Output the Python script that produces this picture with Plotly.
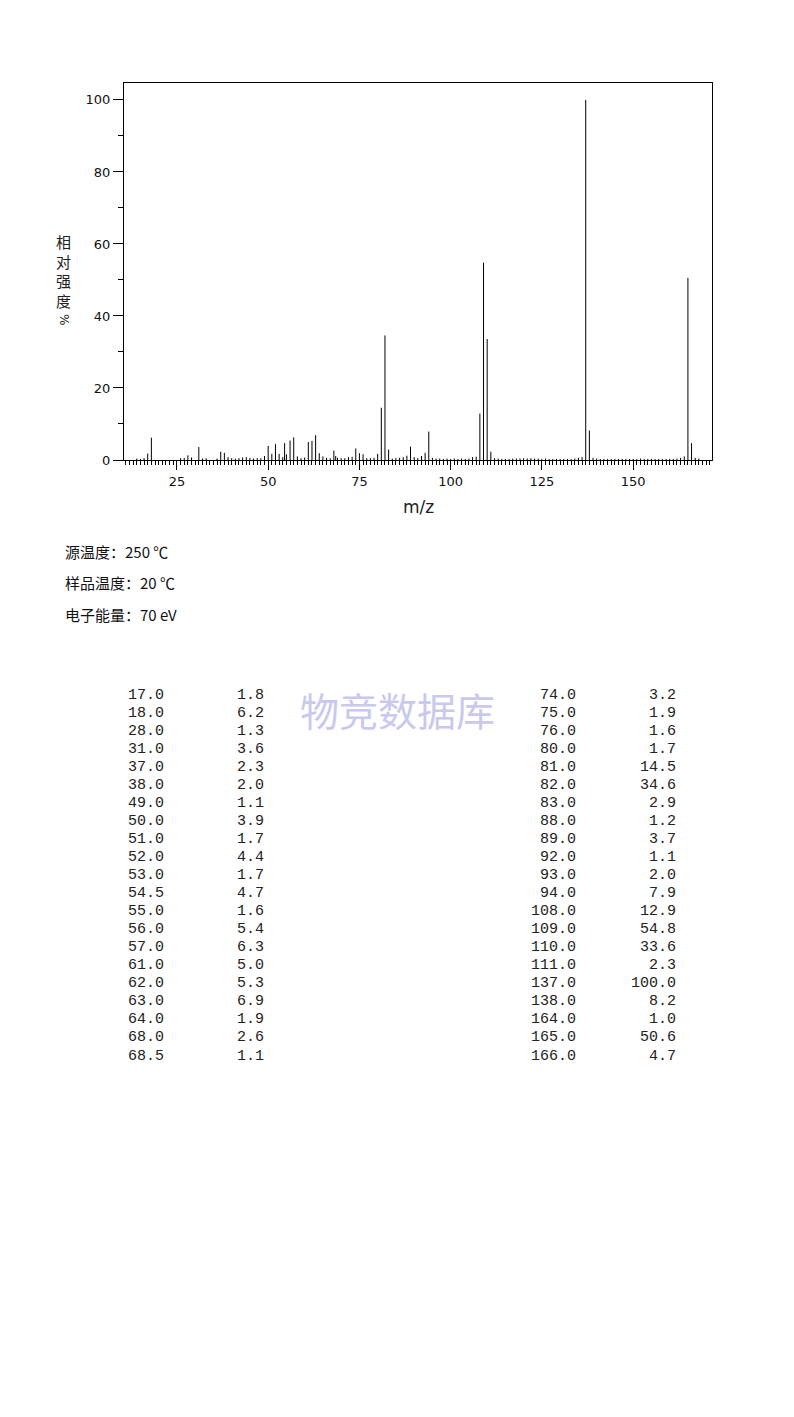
import plotly.graph_objects as go

# Listed peaks (m/z, relative intensity %)
table_mz = [17.0, 18.0, 28.0, 31.0, 37.0, 38.0, 49.0, 50.0, 51.0, 52.0, 53.0, 54.5, 55.0, 56.0,
            57.0, 61.0, 62.0, 63.0, 64.0, 68.0, 68.5,
            74.0, 75.0, 76.0, 80.0, 81.0, 82.0, 83.0, 88.0, 89.0, 92.0, 93.0, 94.0, 108.0, 109.0,
            110.0, 111.0, 137.0, 138.0, 164.0, 165.0, 166.0]
table_int = [1.8, 6.2, 1.3, 3.6, 2.3, 2.0, 1.1, 3.9, 1.7, 4.4, 1.7, 4.7, 1.6, 5.4,
             6.3, 5.0, 5.3, 6.9, 1.9, 2.6, 1.1,
             3.2, 1.9, 1.6, 1.7, 14.5, 34.6, 2.9, 1.2, 3.7, 1.1, 2.0, 7.9, 12.9, 54.8,
             33.6, 2.3, 100.0, 8.2, 1.0, 50.6, 4.7]

# Minor peaks (below table threshold)
minor_mz = [14, 15, 16, 26, 27, 29, 32, 33, 36, 39, 40, 41, 42, 43, 44, 45, 46, 47, 48,
            54, 58, 59, 60, 65, 66, 67, 69, 70, 71, 72, 73, 77, 78, 79, 84, 85, 86, 87,
            90, 91, 95, 96, 97, 98, 99, 100, 101, 102, 103, 104, 105, 106, 107,
            112, 113, 114, 115, 116, 117, 118, 119, 120, 121, 122, 123, 124, 125, 126,
            127, 128, 129, 130, 131, 132, 133, 134, 135, 136, 139, 140, 141, 142, 143,
            144, 145, 146, 147, 148, 149, 150, 151, 152, 153, 154, 155, 156, 157, 158,
            159, 160, 161, 162, 163, 167, 168]
minor_int = [0.4, 0.3, 0.5, 0.5, 0.6, 0.7, 0.4, 0.5, 0.4, 0.8, 0.5, 0.4, 0.5, 0.7, 0.8, 0.6, 0.4, 0.5, 0.5,
             0.8, 1.0, 0.5, 0.7, 1.0, 0.6, 0.5, 0.6, 0.5, 0.5, 0.8, 0.9, 0.5, 0.5, 0.6, 0.4, 0.5, 0.6, 0.8,
             0.8, 0.5, 0.6, 0.4, 0.4, 0.3, 0.4, 0.3, 0.4, 0.3, 0.4, 0.3, 0.4, 0.8, 0.9,
             0.5, 0.4, 0.3, 0.3, 0.3, 0.4, 0.4, 0.4, 0.5, 0.4, 0.5, 0.4, 0.4, 0.3, 0.4,
             0.3, 0.3, 0.3, 0.3, 0.3, 0.3, 0.3, 0.4, 0.6, 0.8, 0.6, 0.4, 0.3, 0.3, 0.3,
             0.3, 0.3, 0.3, 0.3, 0.3, 0.3, 0.3, 0.3, 0.4, 0.3, 0.3, 0.3, 0.3, 0.3, 0.3,
             0.3, 0.3, 0.3, 0.4, 0.6, 0.6, 0.4]

x_ticks = [25, 50, 75, 100, 125, 150]
y_ticks = [0, 20, 40, 60, 80, 100]
info_lines = ["源温度：250 ℃", "样品温度：20 ℃", "电子能量：70 eV"]
y_title = "相<br>对<br>强<br>度"
watermark = "物竞数据库"

W, H = 794, 1417
OFF = 8  # page body margin
L, R, T, B = 124, 712, 83, 460  # plot area in page pixels


def xp(px):
    return (px - L) / (R - L)


def yp(py):
    return (B - py) / (B - T)


all_mz = table_mz + minor_mz
all_int = table_int + minor_int
xs, ys = [], []
for m, v in zip(all_mz, all_int):
    xs += [m, m, None]
    ys += [0, v, None]

fig = go.Figure()
fig.add_trace(go.Scatter(x=xs, y=ys, mode="lines",
                         line=dict(color="black", width=1), hoverinfo="skip",
                         showlegend=False))

tickfont = dict(family="DejaVu Sans", size=13, color="#111")
fig.update_layout(
    width=W, height=H,
    margin=dict(l=L - OFF, r=W - R + OFF, t=T - OFF, b=H - B + OFF, pad=0),
    paper_bgcolor="white", plot_bgcolor="white",
    showlegend=False,
    xaxis=dict(range=[10.5, 171.6], tickvals=x_ticks, ticktext=[str(t) for t in x_ticks],
               ticks="outside", ticklen=9, tickcolor="black", tickwidth=1,
               minor=dict(dtick=1, tick0=0, ticks="outside", ticklen=4,
                          tickcolor="black", tickwidth=1, showgrid=False),
               showline=True, linecolor="black", linewidth=1, mirror=True,
               showgrid=False, zeroline=False, tickfont=tickfont),
    yaxis=dict(range=[0, 104.7], tickvals=y_ticks, ticktext=[str(t) for t in y_ticks],
               ticks="outside", ticklen=10, tickcolor="black", tickwidth=1,
               minor=dict(dtick=10, tick0=0, ticks="outside", ticklen=5,
                          tickcolor="black", tickwidth=1, showgrid=False),
               showline=True, linecolor="black", linewidth=1, mirror=True,
               showgrid=False, zeroline=False, tickfont=tickfont),
)

ann = []
# y-axis title (stacked characters)
ann.append(dict(text=y_title, x=xp(63), y=yp(271), xref="paper", yref="paper",
                showarrow=False, xanchor="center", yanchor="middle",
                font=dict(family="Noto Sans CJK SC", size=15, color="#222")))
ann.append(dict(text="%", x=xp(64), y=yp(319), xref="paper", yref="paper",
                showarrow=False, xanchor="center", yanchor="middle", textangle=90,
                font=dict(family="DejaVu Sans", size=12, color="#222")))
# x-axis title
ann.append(dict(text="m/z", x=xp(418), y=yp(507), xref="paper", yref="paper",
                showarrow=False, xanchor="center", yanchor="middle",
                font=dict(family="DejaVu Sans", size=17, color="#222")))
# info lines
for i, line in enumerate(info_lines):
    ann.append(dict(text=line, x=xp(63), y=yp(551 + i * 31.5), xref="paper", yref="paper",
                    showarrow=False, xanchor="left", yanchor="middle",
                    font=dict(family="Noto Sans CJK SC", size=15, color="#111")))
# watermark
ann.append(dict(text=watermark, x=xp(397), y=yp(709), xref="paper", yref="paper",
                showarrow=False, xanchor="center", yanchor="middle",
                font=dict(family="Noto Sans CJK SC", size=39, color="#c9c9ee")))
# peak table
n_left = 21
mono = dict(family="Liberation Mono", size=15, color="#222")
for i, (m, v) in enumerate(zip(table_mz, table_int)):
    col = 0 if i < n_left else 1
    row = i if i < n_left else i - n_left
    yy = yp(695 + row * 18.05)
    x_mz = 166 if col == 0 else 578
    x_v = 266 if col == 0 else 678
    ann.append(dict(text=f"{m:.1f}", x=xp(x_mz), y=yy, xref="paper", yref="paper",
                    showarrow=False, xanchor="right", yanchor="middle", font=mono))
    ann.append(dict(text=f"{v:.1f}", x=xp(x_v), y=yy, xref="paper", yref="paper",
                    showarrow=False, xanchor="right", yanchor="middle", font=mono))

fig.update_layout(annotations=ann)
fig.write_html("out.html")
